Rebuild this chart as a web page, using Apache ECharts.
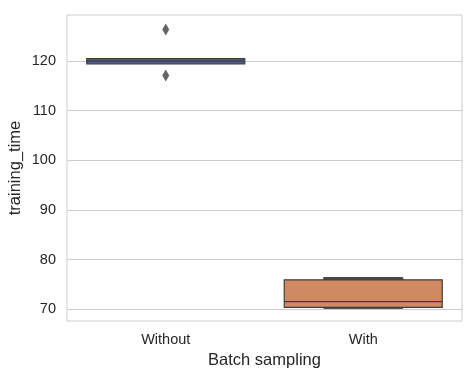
<!DOCTYPE html>
<html>
<head>
<meta charset="utf-8">
<script src="https://cdn.jsdelivr.net/npm/echarts@6/dist/echarts.min.js"></script>
<style>
  html, body { margin: 0; padding: 0; background: #fff; }
  #chart { width: 474px; height: 375px; }
</style>
</head>
<body>
<div id="chart"></div>
<script>
// categories and letter-value boxes
const categories = ["Without", "With"];
const boxLow = [119.45, 70.35];
const boxHigh = [120.5, 75.9];
const medians = [120.0, 71.5];
const innerLow = [null, 70.15];
const innerHigh = [null, 76.35];
const outliers = [[0, 126.4], [0, 117.1]];
const yTicks = [70, 80, 90, 100, 110, 120];
const boxColors = ["#525e86", "#cf8a62"];

const chart = echarts.init(document.getElementById("chart"));

const boxData = categories.map((c, i) => [i, boxLow[i], boxHigh[i], medians[i], innerLow[i], innerHigh[i]]);

function renderBox(params, api) {
  const x = api.value(0);
  const bw = api.size([1, 0])[0];
  const edge = "#3f3f3f";
  const children = [];
  const iLo = api.value(4), iHi = api.value(5);
  if (iLo != null && !isNaN(iLo)) {
    const a = api.coord([x, iHi]);
    const b = api.coord([x, iLo]);
    children.push({
      type: "rect",
      shape: { x: a[0] - bw * 0.2, y: a[1], width: bw * 0.4, height: b[1] - a[1] },
      style: { fill: "#4a4a4a", stroke: edge, lineWidth: 1 }
    });
  }
  const top = api.coord([x, api.value(2)]);
  const bot = api.coord([x, api.value(1)]);
  children.push({
    type: "rect",
    shape: { x: top[0] - bw * 0.4, y: top[1], width: bw * 0.8, height: bot[1] - top[1] },
    style: { fill: boxColors[params.dataIndex], stroke: edge, lineWidth: 1.2 }
  });
  const med = api.coord([x, api.value(3)]);
  children.push({
    type: "line",
    shape: { x1: med[0] - bw * 0.4, y1: med[1], x2: med[0] + bw * 0.4, y2: med[1] },
    style: { stroke: edge, lineWidth: 1.2 }
  });
  return { type: "group", children: children };
}

const font = "Arial, Liberation Sans, sans-serif";

const option = {
  backgroundColor: "#ffffff",
  animation: false,
  grid: {
    left: 67,
    right: 12,
    top: 15,
    bottom: 54,
    outerBoundsMode: "none",
    containLabel: false,
    show: true,
    borderColor: "#cccccc",
    borderWidth: 1
  },
  xAxis: {
    type: "category",
    data: categories,
    name: "Batch sampling",
    nameLocation: "middle",
    nameGap: 31,
    nameMoveOverlap: false,
    nameTextStyle: { color: "#262626", fontSize: 16.5, fontFamily: font },
    axisLine: { show: false },
    axisTick: { show: false },
    splitLine: { show: false },
    axisLabel: { color: "#262626", fontSize: 14.5, margin: 11, fontFamily: font }
  },
  yAxis: {
    type: "value",
    min: 67.6,
    max: 129.3,
    name: "training_time",
    nameLocation: "middle",
    nameGap: 43,
    nameMoveOverlap: false,
    nameTextStyle: { color: "#262626", fontSize: 16.5, fontFamily: font },
    axisLine: { show: false },
    axisTick: { show: false, customValues: yTicks },
    axisLabel: { color: "#262626", fontSize: 14.5, margin: 11, customValues: yTicks, fontFamily: font },
    splitLine: { show: true, lineStyle: { color: "#cccccc", width: 1 } }
  },
  series: [
    {
      type: "custom",
      renderItem: renderBox,
      encode: { x: 0, y: [1, 2] },
      data: boxData,
      z: 3
    },
    {
      type: "scatter",
      data: outliers,
      symbol: "diamond",
      symbolSize: [7, 12],
      itemStyle: { color: "#3f3f3f" },
      z: 4
    }
  ]
};

chart.setOption(option);
</script>
</body>
</html>
